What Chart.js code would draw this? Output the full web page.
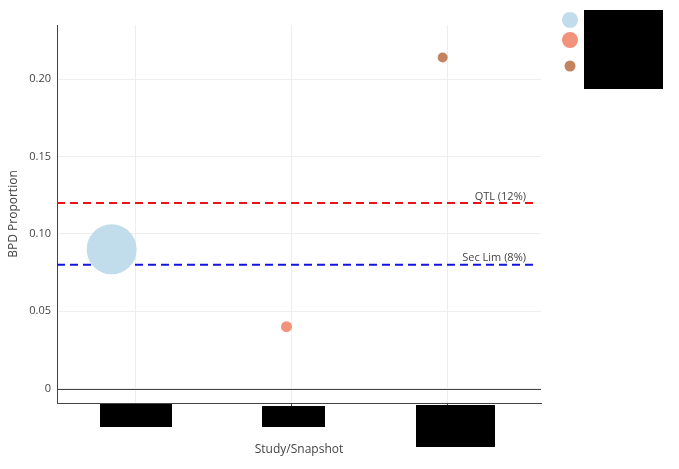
<!DOCTYPE html>
<html>
<head>
<meta charset="utf-8">
<script src="https://cdn.jsdelivr.net/npm/chart.js@4/dist/chart.umd.min.js"></script>
<style>
  html, body { margin: 0; padding: 0; background: #fff; }
  #wrap { width: 679px; height: 469px; }
</style>
</head>
<body>
<div id="wrap"><canvas id="c"></canvas></div>
<script>
// categories (names are redacted in the reference)
var categories = ["", "", ""];
var categoryIndex = [0, 1, 2];
// per-series point: jittered x position, BPD proportion, bubble radius
var seriesX = [-0.15, 0.97, 1.97];
var seriesY = [0.09, 0.04, 0.214];
var seriesR = [25, 5.5, 5];
var seriesColors = ["#c1dcea", "#f4937c", "#c4835f"];
var yTicks = [0, 0.05, 0.1, 0.15, 0.2];
var qtlValue = 0.12;
var secLimValue = 0.08;
var lineRange = [-0.5, 2.57];

var FONT = "'Open Sans', sans-serif";

var datasets = seriesX.map(function (x, i) {
  return {
    type: "bubble",
    label: "series " + (i + 1),
    data: [{ x: x, y: seriesY[i], r: seriesR[i] }],
    backgroundColor: seriesColors[i],
    borderWidth: 0,
    hoverRadius: 0,
  };
});
datasets.push({
  type: "line",
  label: "QTL",
  data: [{ x: lineRange[0], y: qtlValue }, { x: lineRange[1], y: qtlValue }],
  borderColor: "#e8141a",
  borderWidth: 2,
  borderDash: [8, 5],
  pointRadius: 0,
});
datasets.push({
  type: "line",
  label: "Sec Lim",
  data: [{ x: lineRange[0], y: secLimValue }, { x: lineRange[1], y: secLimValue }],
  borderColor: "#1414e0",
  borderWidth: 2,
  borderDash: [8, 5],
  pointRadius: 0,
});

var extras = {
  id: "extras",
  afterDraw: function (chart) {
    var ctx = chart.ctx;
    var xs = chart.scales.x, ys = chart.scales.y, a = chart.chartArea;
    ctx.save();
    // zero line
    ctx.strokeStyle = "#444";
    ctx.lineWidth = 1;
    ctx.beginPath();
    ctx.moveTo(a.left, Math.round(ys.getPixelForValue(0)) + 0.5);
    ctx.lineTo(a.right, Math.round(ys.getPixelForValue(0)) + 0.5);
    ctx.stroke();
    // line annotations
    ctx.fillStyle = "#444";
    ctx.font = "11px " + FONT;
    ctx.textAlign = "right";
    ctx.textBaseline = "bottom";
    ctx.fillText("QTL (12%)", 526, ys.getPixelForValue(qtlValue) - 1);
    ctx.fillText("Sec Lim (8%)", 526, ys.getPixelForValue(secLimValue) - 1);
    // axis titles
    ctx.font = "12px " + FONT;
    ctx.textAlign = "center";
    ctx.textBaseline = "middle";
    ctx.fillText("Study/Snapshot", (a.left + a.right) / 2, 450);
    ctx.translate(14, (a.top + a.bottom) / 2);
    ctx.rotate(-Math.PI / 2);
    ctx.fillText("BPD Proportion", 0, 0);
    ctx.setTransform(1, 0, 0, 1, 0, 0);
    ctx.scale(chart.currentDevicePixelRatio, chart.currentDevicePixelRatio);
    // legend markers
    var ly = [20, 40, 66], lr = [8, 8, 5.5];
    for (var i = 0; i < ly.length; i++) {
      ctx.fillStyle = seriesColors[i];
      ctx.beginPath();
      ctx.arc(570, ly[i], lr[i], 0, Math.PI * 2);
      ctx.fill();
    }
    // redaction boxes (category + legend names)
    ctx.fillStyle = "#000";
    ctx.fillRect(584, 10, 79, 79);
    ctx.fillRect(100, 404, 72, 23);
    ctx.fillRect(262, 406, 63, 21);
    ctx.fillRect(416, 405, 79, 42);
    ctx.restore();
  },
};

new Chart(document.getElementById("c"), {
  data: { datasets: datasets },
  options: {
    responsive: true,
    maintainAspectRatio: false,
    animation: false,
    layout: { padding: { left: 0, right: 138, top: 7, bottom: 0 } },
    plugins: { legend: { display: false }, tooltip: { enabled: false } },
    scales: {
      x: {
        type: "linear",
        min: -0.5,
        max: 2.6,
        afterBuildTicks: function (s) {
          s.ticks = categoryIndex.map(function (v) { return { value: v }; });
        },
        afterFit: function (s) { s.height = 66; },
        grid: { color: "#eee", tickColor: "#444", tickLength: 5, drawOnChartArea: true },
        border: { color: "#444", width: 1 },
        ticks: { display: true, callback: function (v) { return categories[v] || ""; }, font: { size: 1 } },
      },
      y: {
        min: -0.0093,
        max: 0.235,
        afterBuildTicks: function (s) {
          s.ticks = yTicks.map(function (v) { return { value: v }; });
        },
        afterFit: function (s) { s.width = 57; },
        grid: { color: "#eee", drawTicks: false },
        border: { color: "#444", width: 1 },
        ticks: { color: "#444", padding: 6, font: { family: FONT, size: 11 } },
      },
    },
  },
  plugins: [extras],
});
</script>
</body>
</html>
